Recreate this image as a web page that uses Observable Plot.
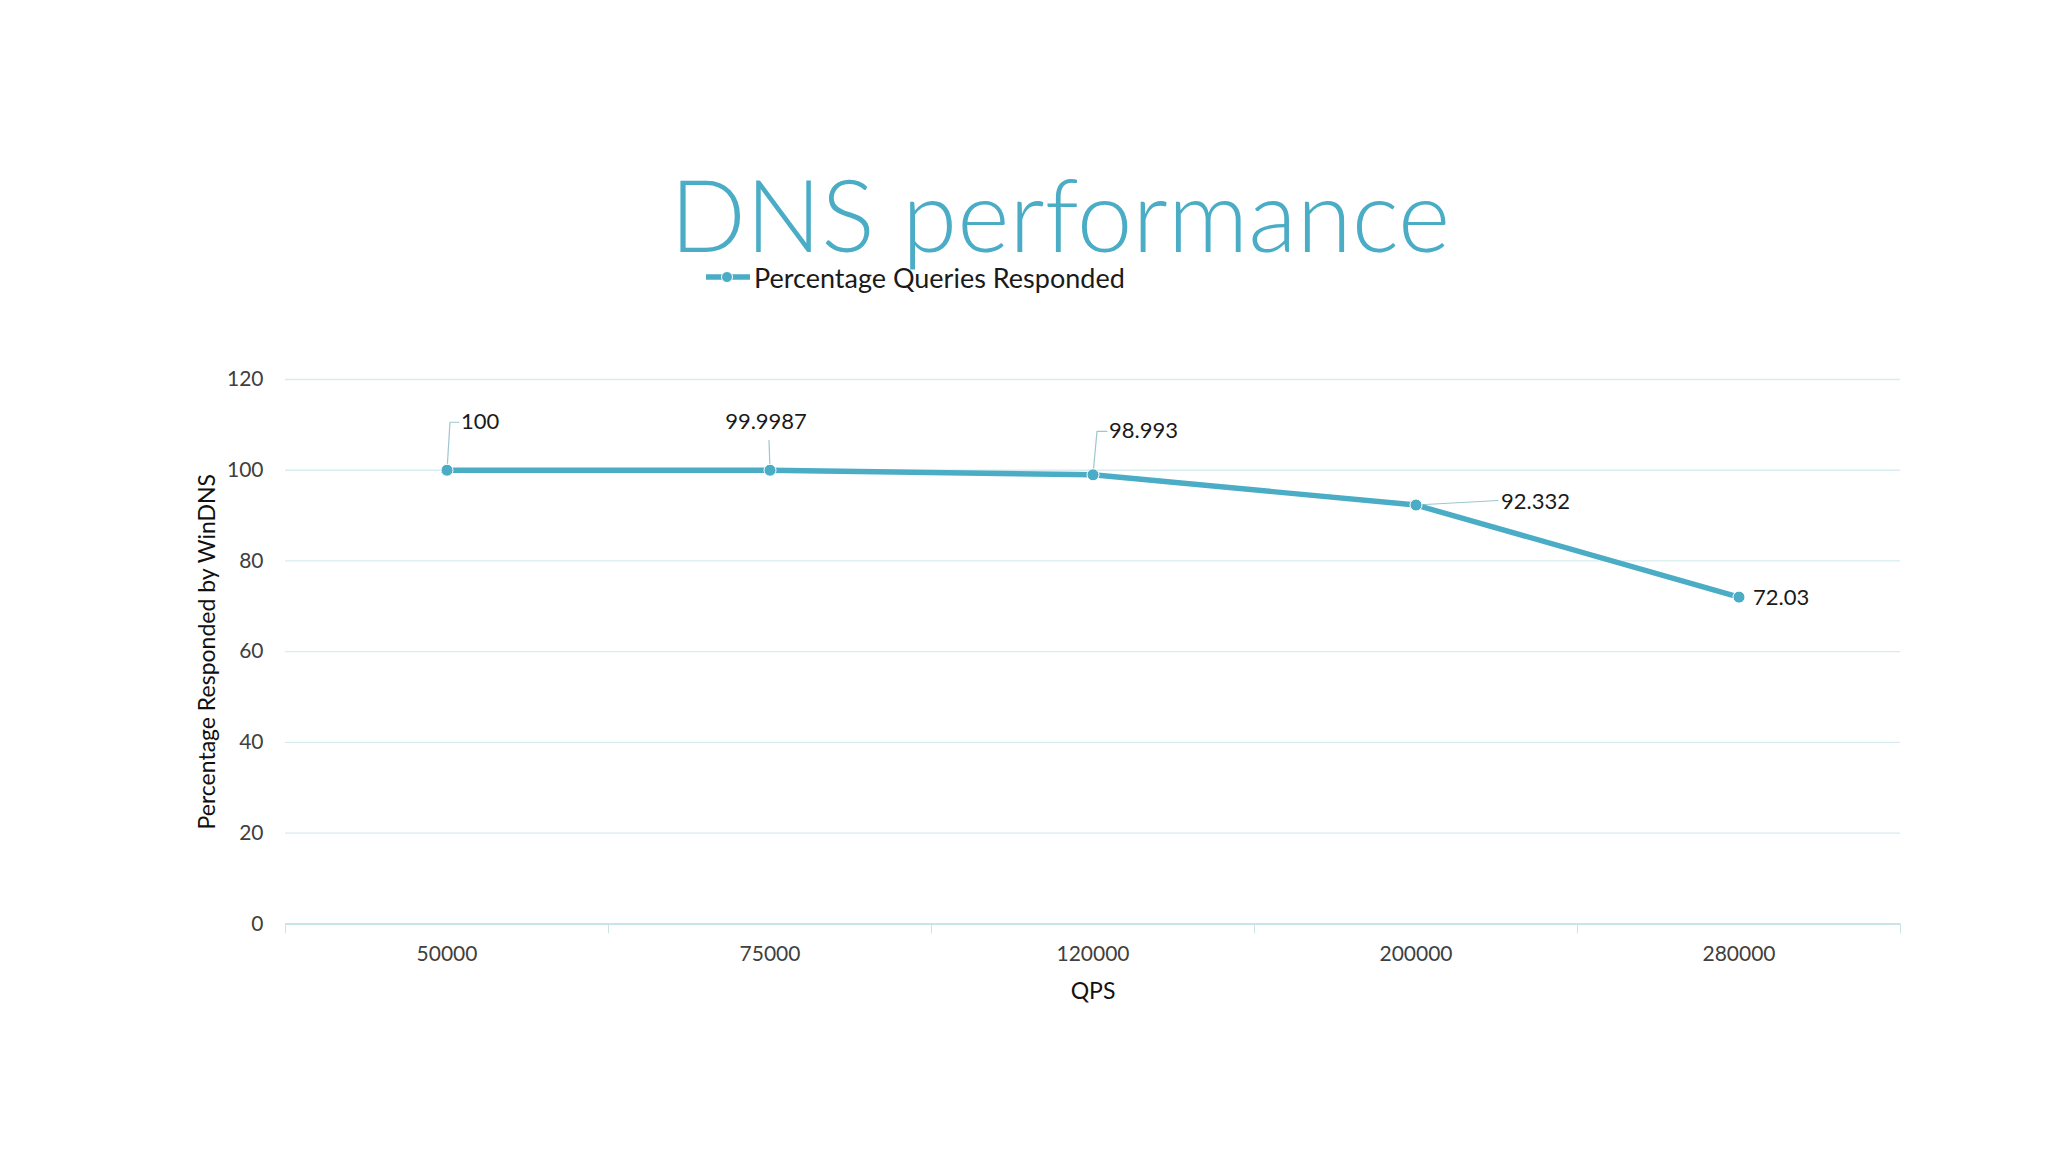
<!DOCTYPE html>
<html>
<head>
<meta charset="utf-8">
<script src="https://cdn.jsdelivr.net/npm/d3@7"></script>
<script src="https://cdn.jsdelivr.net/npm/@observablehq/plot@0.6"></script>
<style>
  html, body { margin: 0; padding: 0; background: #fff; }
  #page { position: relative; width: 2048px; height: 1152px; overflow: hidden; font-family: Lato, "Open Sans", sans-serif; }
  #title { position: absolute; left: 1060px; top: 171px; transform: translateX(-50%); font-size: 100px; font-weight: 300; color: #4BACC6; line-height: 0.85; white-space: nowrap; }
  #legend { position: absolute; left: 705px; top: 262px; height: 30px; display: flex; align-items: center; font-size: 27px; color: #1a1a1a; white-space: nowrap; }
  #legend svg { margin-right: 3px; }
  #chart { position: absolute; left: 0; top: 340px; }
</style>
</head>
<body>
<div id="page">
  <div id="title">DNS performance</div>
  <div id="legend">
    <svg width="46" height="14"><line x1="1" y1="7" x2="45" y2="7" stroke="#4BACC6" stroke-width="5.5"/><circle cx="22" cy="7" r="5.5" fill="#4BACC6" stroke="#fff" stroke-width="1"/></svg>
    <span id="legendText">Percentage Queries Responded</span>
  </div>
  <div id="chart"></div>
</div>
<script>
// ---- data ----
const qps = ["50000", "75000", "120000", "200000", "280000"];
const responded = [100, 99.9987, 98.993, 92.332, 72.03];
const responseLabels = ["100", "99.9987", "98.993", "92.332", "72.03"];
const yTicks = [0, 20, 40, 60, 80, 100, 120];
const seriesName = "Percentage Queries Responded";
const xTitle = "QPS";
const yTitle = "Percentage Responded by WinDNS";

// ---- layout ----
const W = 2048, H = 680;
const mL = 285, mR = 148, mT = 39, mB = 96.6;
const idx = qps.map((_, i) => i);
const boundaries = d3.range(-0.5, qps.length, 1);
const xDomain = [-0.5, qps.length - 0.5];
const yDomain = [0, 120];
const pxX = (W - mL - mR) / (xDomain[1] - xDomain[0]);
const pxY = (H - mT - mB) / (yDomain[1] - yDomain[0]);

const teal = "#4BACC6";
const leaderColor = "#9DC6CF";

// label placement (pixels relative to point)
const place = [
  {dx: 14, dy: -48, anchor: "start", leader: [[0,0],[3,-48],[12,-48]]},
  {dx: -4, dy: -48, anchor: "middle", leader: [[0,0],[-1,-30]]},
  {dx: 16, dy: -43.5, anchor: "start", leader: [[0,0],[4,-43.5],[14,-43.5]]},
  {dx: 85, dy: -3.5, anchor: "start", leader: [[0,0],[82,-4.5]]},
  {dx: 14, dy: 1, anchor: "start", leader: null}
];

const leaderPts = [];
place.forEach((p, i) => {
  if (!p.leader) return;
  p.leader.forEach(([ox, oy]) => leaderPts.push({k: i, x: i + ox / pxX, y: responded[i] - oy / pxY}));
});

const rows = idx.map(i => ({i, v: responded[i], q: qps[i]}));

const plot = Plot.plot({
  width: W, height: H,
  marginLeft: mL, marginRight: mR, marginTop: mT, marginBottom: mB,
  style: {fontFamily: "Lato, 'Open Sans', sans-serif", background: "transparent", overflow: "visible"},
  x: {domain: xDomain, axis: null},
  y: {domain: yDomain, axis: null},
  marks: [
    Plot.gridY(yTicks.filter(t => t > 0), {stroke: "#D6ECEF", strokeOpacity: 1, strokeWidth: 1.3}),
    Plot.axisY(yTicks, {tickSize: 0, tickPadding: 22, fontSize: 21, fill: "#404040", label: null}),
    Plot.axisX(boundaries, {tickSize: 10, tickFormat: () => "", stroke: "#CFE3E7", label: null}),
    Plot.ruleY([0], {stroke: "#C9E4E9", strokeWidth: 2}),
    Plot.axisX(idx, {tickSize: 0, tickPadding: 22, tickFormat: i => qps[i], fontSize: 21, fill: "#404040", label: null}),
    Plot.text([yTitle], {frameAnchor: "left", text: d => d, rotate: -90, dx: -78, fontSize: 23, fill: "#111", textAnchor: "middle", lineAnchor: "middle"}),
    Plot.text([xTitle], {frameAnchor: "bottom", text: d => d, dy: 67.6, fontSize: 23, fill: "#111", textAnchor: "middle", lineAnchor: "middle"}),
    Plot.line(leaderPts, {x: "x", y: "y", z: "k", stroke: leaderColor, strokeWidth: 1.2}),
    Plot.line(rows, {x: "i", y: "v", stroke: teal, strokeWidth: 5.4, strokeLinejoin: "round"}),
    Plot.dot(rows, {x: "i", y: "v", r: 6, fill: teal, stroke: "#ffffff", strokeWidth: 1}),
    ...place.map((p, i) => Plot.text([rows[i]], {x: "i", y: "v", text: () => responseLabels[i], dx: p.dx, dy: p.dy, textAnchor: p.anchor, lineAnchor: "middle", fontSize: 22, fill: "#1a1a1a"}))
  ]
});
document.getElementById("chart").appendChild(plot);
document.getElementById("legendText").textContent = seriesName;
</script>
</body>
</html>
